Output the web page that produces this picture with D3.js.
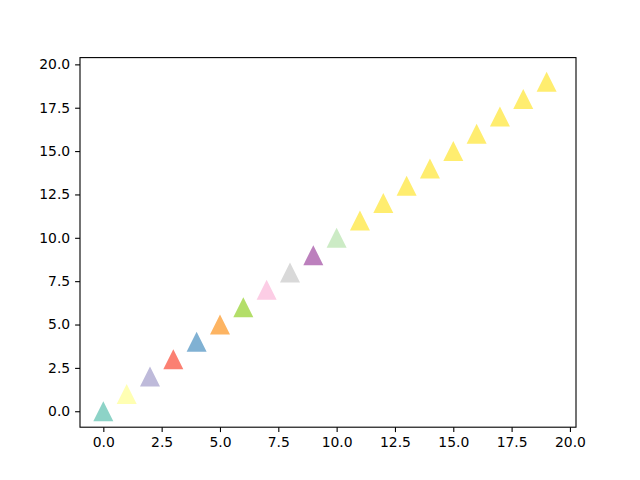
<!DOCTYPE html>
<html>
<head>
<meta charset="utf-8">
<script src="https://cdn.jsdelivr.net/npm/d3@7"></script>
<style>
  body { margin: 0; background: #fff; }
  svg { display: block; }
  .tick text { font-family: "DejaVu Sans", sans-serif; font-size: 13.9px; fill: #000; }
</style>
</head>
<body>
<div id="chart"></div>
<script>
// data
var xValues = [0, 1, 2, 3, 4, 5, 6, 7, 8, 9, 10, 11, 12, 13, 14, 15, 16, 17, 18, 19]
var yValues = [0, 1, 2, 3, 4, 5, 6, 7, 8, 9, 10, 11, 12, 13, 14, 15, 16, 17, 18, 19]
var colorIndex = [0, 1, 2, 3, 4, 5, 6, 7, 8, 9, 10, 11, 11, 11, 11, 11, 11, 11, 11, 11]
var xTicks = [0, 2.5, 5, 7.5, 10, 12.5, 15, 17.5, 20]
var yTicks = [0, 2.5, 5, 7.5, 10, 12.5, 15, 17.5, 20]

var width = 640
var height = 480
// plot area edges (top is a reserved window name, so use plot*)
var plotLeft = 80, plotRight = 576, plotTop = 57.6, plotBottom = 427.2
var color = d3.schemeSet3

var svg = d3.select('#chart')
            .append('svg')
            .attr('width', width)
            .attr('height', height)

var xScale = d3.scaleLinear()
               .domain([-1.0, 20.26])
               .range([plotLeft, plotRight])
var yScale = d3.scaleLinear()
               .domain([-0.92, 20.39])
               .range([plotBottom, plotTop])

// triangle marker, about 20px wide and high
var half = 10
function triPath () {
  return "M0," + (-half) + "L" + half + "," + half + "L" + (-half) + "," + half + "Z"
}

svg.append('g')
   .selectAll('path')
   .data(xValues)
   .enter()
   .append('path')
   .attr('d', triPath)
   .attr('transform', (d, i) => "translate(" + xScale(d) + "," + yScale(yValues[i]) + ")")
   .attr('fill', (d, i) => color[colorIndex[i]])

var xAxis = d3.axisBottom(xScale)
              .tickValues(xTicks)
              .tickFormat(d3.format('.1f'))
              .tickSizeInner(4.9)
              .tickSizeOuter(0)
              .tickPadding(4.9)
var yAxis = d3.axisLeft(yScale)
              .tickValues(yTicks)
              .tickFormat(d3.format('.1f'))
              .tickSizeInner(4.9)
              .tickSizeOuter(0)
              .tickPadding(4.9)

var gx = svg.append('g')
            .attr('transform', "translate(0," + plotBottom + ")")
            .call(xAxis)
var gy = svg.append('g')
            .attr('transform', "translate(" + plotLeft + ",0)")
            .call(yAxis)
gx.select('.domain').remove()
gy.select('.domain').remove()
svg.selectAll('.tick line').attr('stroke', '#000').attr('stroke-width', 1.1)

// frame
svg.append('rect')
   .attr('x', plotLeft)
   .attr('y', plotTop)
   .attr('width', plotRight - plotLeft)
   .attr('height', plotBottom - plotTop)
   .attr('fill', 'none')
   .attr('stroke', '#000')
   .attr('stroke-width', 1.1)
</script>
</body>
</html>
